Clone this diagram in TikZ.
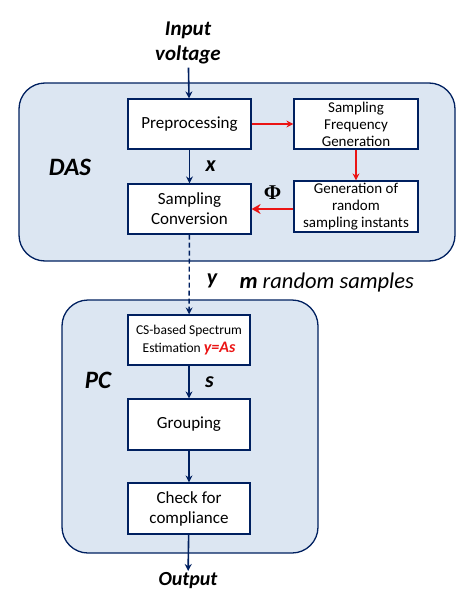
\documentclass[tikz,border=0pt]{standalone}
\usepackage{fontspec}
\setmainfont{Carlito}
\newfontfamily\phifont{Liberation Serif}
\usetikzlibrary{arrows.meta}
\definecolor{navy}{RGB}{0,32,96}
\definecolor{panelblue}{RGB}{220,230,242}
\definecolor{arrowred}{RGB}{235,20,20}

\begin{document}
\begin{tikzpicture}[
            x=1pt, y=-1pt,
            panel/.style={draw=navy, fill=panelblue, line width=1.3pt, rounded corners=26pt},
            block/.style={rectangle, draw=navy, fill=white, line width=1.2pt, minimum width=123pt, minimum height=50pt, align=center, font=\fontsize{17}{20}\selectfont, inner sep=1pt},
            smallblock/.style={block, minimum width=124pt, font=\fontsize{15}{17}\selectfont},
            tag/.style={font=\fontsize{25}{28}\selectfont\bfseries\itshape},
            symb/.style={black, font=\fontsize{22}{24}\selectfont\bfseries\itshape},
            io/.style={font=\fontsize{21}{25}\selectfont\bfseries\itshape, align=center},
            flow/.style={-{Stealth[length=7pt, width=7pt]}, line width=1.6pt, navy},
            ctrl/.style={-{Stealth[length=7pt, width=7pt]}, line width=1.4pt, arrowred}
        ]
            \useasboundingbox (0,0) rectangle (474,594);

            % --- 1. panels ---
            \draw[panel] (19,83) rectangle (455,261);
            \draw[panel] (62,300) rectangle (318,553);
            \node[tag] (das) at (70,167) {DAS};
            \node[tag] (pc) at (98,380) {PC};

            % --- 2. blocks ---
            \node[io] (input) at (188,43) {Input\\voltage};
            \node[block] (pre) at (189.5,124) {Preprocessing};
            \node[smallblock] (freq) at (356,124) {Sampling\\Frequency\\Generation};
            \node[block] (conv) at (189.5,209) {Sampling\\Conversion};
            \node[smallblock, minimum height=51pt] (rand) at (356,206.5) {Generation of\\random\\sampling instants};
            \node[block, minimum width=122pt, font=\fontsize{13.5}{18}\selectfont] (cs) at (189,340) {CS-based Spectrum\\Estimation \textcolor{arrowred}{\bfseries\itshape\fontsize{16}{18}\selectfont y=As}};
            \node[block, minimum width=122pt, minimum height=51pt] (group) at (189,424.5) {Grouping};
            \node[block, minimum width=122pt, minimum height=51pt] (check) at (189,508.5) {Check for\\compliance};
            \node[io, anchor=north, inner sep=1pt, font=\fontsize{20}{24}\selectfont\bfseries\itshape] (output) at (188,571) {Output};

            % --- 3. connectors ---
            \draw[flow] (input) -- (pre);
            \draw[flow] (pre) -- (conv) node[midway, right=12pt, symb] {x};
            \draw[ctrl] (pre) -- (freq);
            \draw[ctrl] (freq) -- (rand);
            \draw[ctrl, line width=2.8pt, -{Stealth[length=9pt, width=10pt]}] (rand.west |- conv) -- (conv) node[midway, above=5pt, black, font=\fontsize{21}{24}\selectfont\phifont\bfseries] {Φ};
            \draw[flow, dashed, dash pattern=on 5pt off 3pt, line width=1.4pt] (conv) -- (cs);
            \draw[flow] (cs) -- (group) node[midway, right=12pt, symb] {s};
            \draw[flow] (group) -- (check);
            \draw[flow] (check) -- (output);

            % --- 4. labels of the samples ---
            \node[symb] (ylab) at (212,281) {y};
            \node[anchor=west, font=\fontsize{22.5}{24}\selectfont\itshape] (mlab) at (236,282) {\textbf{m} random samples};

        \end{tikzpicture}
\end{document}
